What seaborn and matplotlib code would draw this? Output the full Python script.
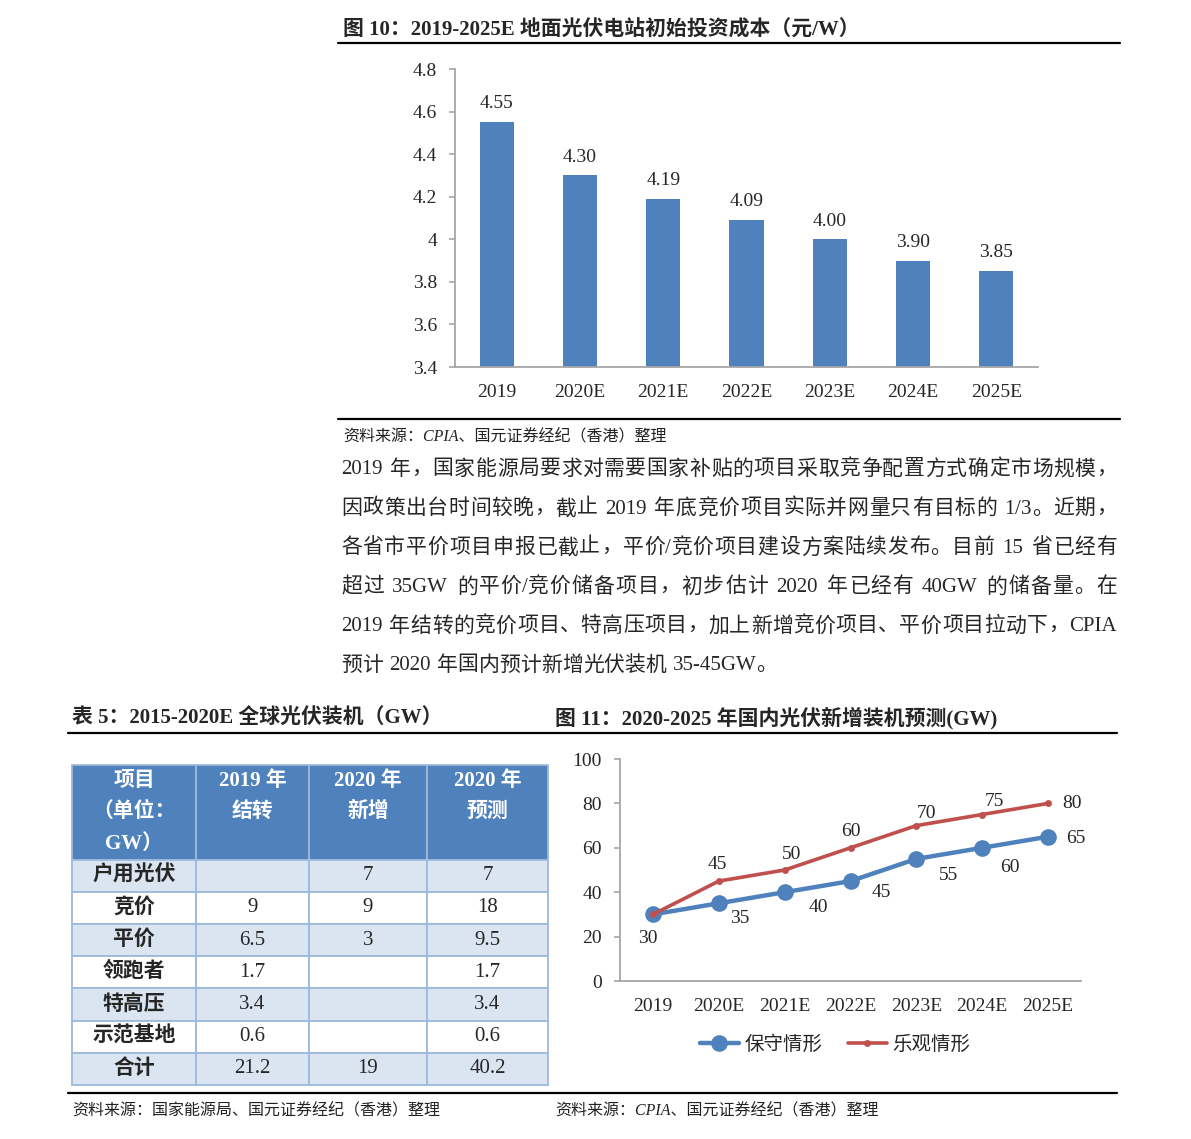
import re
import numpy as np
import pandas as pd
import matplotlib
matplotlib.use("Agg")
import matplotlib.pyplot as plt
from matplotlib.lines import Line2D
from matplotlib.ticker import FuncFormatter
import seaborn as sns

# ==========================================
# 1. DADOS
# ==========================================
BAR_YEARS = ['2019', '2020E', '2021E', '2022E', '2023E', '2024E', '2025E']
BAR_COST = [4.55, 4.30, 4.19, 4.09, 4.00, 3.90, 3.85]

LINE_YEARS = ['2019', '2020E', '2021E', '2022E', '2023E', '2024E', '2025E']
CONSERVATIVE = [30, 35, 40, 45, 55, 60, 65]
OPTIMISTIC = [30, 45, 50, 60, 70, 75, 80]
SERIES_NAMES = ['保守情形', '乐观情形']

TABLE_HEADER = ['项目\n（单位：\nGW）', '2019 年\n结转\n ', '2020 年\n新增\n ', '2020 年\n预测\n ']
TABLE_ITEMS = ['户用光伏', '竞价', '平价', '领跑者', '特高压', '示范基地', '合计']
CARRY_2019 = ['', '9', '6.5', '1.7', '3.4', '0.6', '21.2']
NEW_2020 = ['7', '9', '3', '', '', '', '19']
FORECAST_2020 = ['7', '18', '9.5', '1.7', '3.4', '0.6', '40.2']

TITLE_BAR = '图 10：2019-2025E 地面光伏电站初始投资成本（元/W）'
TITLE_TABLE = '表 5：2015-2020E 全球光伏装机（GW）'
TITLE_LINE = '图 11：2020-2025 年国内光伏新增装机预测(GW)'
SOURCE_BAR = '资料来源：CPIA、国元证券经纪（香港）整理'
SOURCE_TABLE = '资料来源：国家能源局、国元证券经纪（香港）整理'
SOURCE_LINE = '资料来源：CPIA、国元证券经纪（香港）整理'
PARAGRAPH = [
    '2019 年，国家能源局要求对需要国家补贴的项目采取竞争配置方式确定市场规模，',
    '因政策出台时间较晚，截止 2019 年底竞价项目实际并网量只有目标的 1/3。近期，',
    '各省市平价项目申报已截止，平价/竞价项目建设方案陆续发布。目前 15 省已经有',
    '超过 35GW 的平价/竞价储备项目，初步估计 2020 年已经有 40GW 的储备量。在',
    '2019 年结转的竞价项目、特高压项目，加上新增竞价项目、平价项目拉动下，CPIA',
    '预计 2020 年国内预计新增光伏装机 35-45GW。',
]

# ==========================================
# 2. ESTILO
# ==========================================
BLUE = '#4F81BD'
RED = '#C0504D'
LIGHT = '#DBE5F1'
BORDER = '#9DB9DD'
AXIS_GRAY = '#A6A6A6'

sns.set_style("white")
plt.rcParams['font.family'] = ['Liberation Serif', 'Noto Sans CJK SC']
plt.rcParams['axes.unicode_minus'] = False

W, H = 1191, 1139
fig = plt.figure(figsize=(W / 100, H / 100), dpi=100)
renderer = fig.canvas.get_renderer()


def fx(x):
    return x / W


def fy(y):
    return 1 - y / H


def box(x0, y0, x1, y1):
    return [x0 / W, 1 - y1 / H, (x1 - x0) / W, (y1 - y0) / H]


def hline(x0, x1, y, lw=1.6):
    fig.add_artist(Line2D([fx(x0), fx(x1)], [fy(y), fy(y)], color='black', lw=lw))


def justified_line(text, x0, x1, y, size, justify=True):
    # texto justificado: espalha os tokens entre x0 e x1 (sem espaço extra em volta de "/")
    tokens = re.findall(r'[A-Za-z0-9.\-]+|\s|.', text)
    widths = []
    for tok in tokens:
        if tok.isspace():
            widths.append(0.3 * size * 100 / 72)
            continue
        t = fig.text(0, 0, tok, fontsize=size)
        widths.append(t.get_window_extent(renderer).width)
        t.remove()
    gaps = [0 if '/' in (tokens[k], tokens[k + 1]) else 1 for k in range(len(tokens) - 1)]
    extra = 0
    if justify and sum(gaps) > 0:
        extra = (x1 - x0 - sum(widths)) / sum(gaps)
    x = x0
    for k, (tok, w) in enumerate(zip(tokens, widths)):
        if not tok.isspace():
            fig.text(fx(x), fy(y), tok, fontsize=size, va='center', ha='left')
        x += w + (extra * gaps[k] if k < len(gaps) else 0)


def style_axis(ax):
    sns.despine(ax=ax)
    for s in ['left', 'bottom']:
        ax.spines[s].set_color(AXIS_GRAY)
        ax.spines[s].set_linewidth(1.3)
    ax.set_xlim(-0.5, 6.5)
    ax.set_xticks(np.arange(-0.5, 7, 1), minor=True)
    ax.tick_params(axis='x', which='major', length=0, pad=12, labelsize=14)
    ax.tick_params(axis='x', which='minor', length=5, color=AXIS_GRAY, width=1.2)
    ax.tick_params(axis='y', which='major', left=True, length=4, color=AXIS_GRAY,
                   width=1.2, pad=9, labelsize=14)
    ax.set_xlabel('')
    ax.set_ylabel('')
    ax.grid(False)


# ==========================================
# 3. GRÁFICO DE BARRAS
# ==========================================
fig.text(fx(343), fy(30), TITLE_BAR, fontsize=15, fontweight='bold', va='center')
hline(338, 1120, 43)

ax1 = fig.add_axes(box(455, 69, 1038, 367))
sns.barplot(x=BAR_YEARS, y=BAR_COST, color=BLUE, saturation=1, width=0.41,
            linewidth=0, ax=ax1)
ax1.set_ylim(3.4, 4.8)
ax1.set_yticks(np.arange(3.4, 4.81, 0.2))
ax1.yaxis.set_major_formatter(FuncFormatter(lambda v, _: f'{round(v, 1):g}'))
ax1.bar_label(ax1.containers[0], fmt='%.2f', padding=7, fontsize=14)
style_axis(ax1)

hline(338, 1120, 419)
fig.text(fx(343), fy(436), SOURCE_BAR, fontsize=11.5, style='italic', va='center', color='#222222')

for i, line in enumerate(PARAGRAPH):
    justified_line(line, 341, 1117, 470 + 39.2 * i, 15, justify=(i < len(PARAGRAPH) - 1))

# ==========================================
# 4. TABELA
# ==========================================
fig.text(fx(72), fy(719), TITLE_TABLE, fontsize=15, fontweight='bold', va='center')
fig.text(fx(555), fy(718), TITLE_LINE, fontsize=15, fontweight='bold', va='center')
hline(68, 1117, 733)

ax3 = fig.add_axes(box(72, 765, 548, 1085))
ax3.axis('off')
rows = [[TABLE_ITEMS[i], CARRY_2019[i], NEW_2020[i], FORECAST_2020[i]]
        for i in range(len(TABLE_ITEMS))]
tbl = ax3.table(cellText=rows, colLabels=TABLE_HEADER, colWidths=[124, 113, 118, 121],
                cellLoc='center', bbox=[0, 0, 1, 1])
tbl.auto_set_font_size(False)
tbl.set_fontsize(15)
for (r, c), cell in tbl.get_celld().items():
    cell.set_edgecolor(BORDER)
    cell.set_linewidth(1.3)
    txt = cell.get_text()
    if r == 0:
        cell.set_height(94)
        cell.set_facecolor(BLUE)
        txt.set_color('white')
        txt.set_fontweight('bold')
        txt.set_linespacing(1.75)
    else:
        cell.set_height(32)
        cell.set_facecolor(LIGHT if r % 2 == 1 else 'white')
        if c == 0:
            txt.set_fontweight('bold')

hline(68, 1117, 1093)
fig.text(fx(72), fy(1110), SOURCE_TABLE, fontsize=11.5, style='italic', va='center', color='#222222')
fig.text(fx(555), fy(1110), SOURCE_LINE, fontsize=11.5, style='italic', va='center', color='#222222')

# ==========================================
# 5. GRÁFICO DE LINHAS
# ==========================================
ax2 = fig.add_axes(box(620, 759, 1081, 981))
sns.lineplot(x=LINE_YEARS, y=CONSERVATIVE, color=BLUE, lw=3.2, marker='o',
             markersize=12, markeredgewidth=0, sort=False, ax=ax2)
sns.lineplot(x=LINE_YEARS, y=OPTIMISTIC, color=RED, lw=2.6, marker='o',
             markersize=5, markeredgewidth=0, sort=False, ax=ax2)
ax2.set_ylim(0, 100)
ax2.set_yticks(range(0, 101, 20))
style_axis(ax2)

blue_off = [(-4, -17), (15, -11), (24, -11), (22, -8), (23, -12), (20, -14), (20, -1)]
red_off = [None, (-1, 12), (5, 11), (0, 12), (7, 9), (9, 9), (17, 0)]
for i, v in enumerate(CONSERVATIVE):
    ax2.annotate(str(v), (i, v), xytext=blue_off[i], textcoords='offset points',
                 ha='center', va='center', fontsize=14)
for i, v in enumerate(OPTIMISTIC):
    if red_off[i] is None:
        continue
    ax2.annotate(str(v), (i, v), xytext=red_off[i], textcoords='offset points',
                 ha='center', va='center', fontsize=14)

handles = [Line2D([], [], color=BLUE, lw=3.2, marker='o', markersize=12, markeredgewidth=0),
           Line2D([], [], color=RED, lw=2.6, marker='o', markersize=5, markeredgewidth=0)]
fig.legend(handles, SERIES_NAMES, loc='center', bbox_to_anchor=(fx(835), fy(1045)),
           ncol=2, frameon=False, fontsize=14, handlelength=2.0, columnspacing=1.3,
           handletextpad=0.3)

fig.savefig('out.png', dpi=100)
